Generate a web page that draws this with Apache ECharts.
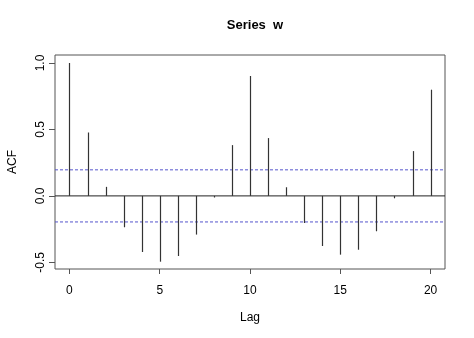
<!DOCTYPE html>
<html>
<head>
<meta charset="utf-8">
<script src="https://cdn.jsdelivr.net/npm/echarts@6/dist/echarts.min.js"></script>
<style>html,body{margin:0;padding:0;background:#fff;}#c{width:474px;height:338px;}</style>
</head>
<body>
<div id="c"></div>
<script>
const lags = [0,1,2,3,4,5,6,7,8,9,10,11,12,13,14,15,16,17,18,19,20];
const acfValues = [1.0,0.477,0.068,-0.236,-0.422,-0.495,-0.452,-0.291,-0.012,0.382,0.902,0.435,0.065,-0.204,-0.377,-0.442,-0.405,-0.266,-0.018,0.337,0.799];
const confLimit = 0.196;
const xTicks = [0,5,10,15,20];
const yTicks = [-0.5,0,0.5,1.0];
const xMin = -0.8, xMax = 20.8, yMin = -0.55, yMax = 1.06;

const chart = echarts.init(document.getElementById('c'), null, {renderer:'canvas'});
const fontFam = 'Liberation Sans, Arial, sans-serif';
const data = lags.map((l,i)=>[l, acfValues[i]]);
function hline(v, color, type){
  return {type:'line', data:[[xMin,v],[xMax,v]], symbol:'none', silent:true,
    lineStyle:{color:color, width:1, type:type}, z:1};
}
chart.setOption({
  animation:false,
  backgroundColor:'#fff',
  title:{text:'Series  w', left:250, top:14, textAlign:'center',
    textStyle:{fontFamily:fontFam, fontSize:13, fontWeight:'bold', color:'#000'}},
  grid:{left:55, top:55, right:29, bottom:69, show:true, borderColor:'#555', borderWidth:1,
    backgroundColor:'transparent', containLabel:false, outerBoundsMode:'none'},
  xAxis:{type:'value', min:xMin, max:xMax, position:'bottom',
    name:'Lag', nameLocation:'middle', nameGap:43,
    nameTextStyle:{fontFamily:fontFam, fontSize:12, color:'#000'},
    axisLine:{show:false, onZero:false}, splitLine:{show:false},
    axisTick:{show:true, customValues:xTicks, length:5, inside:false, lineStyle:{color:'#555'}},
    axisLabel:{customValues:xTicks, fontFamily:fontFam, fontSize:12, color:'#000', margin:16,
      formatter:v=>String(v)}},
  yAxis:{type:'value', min:yMin, max:yMax, position:'left',
    name:'ACF', nameLocation:'middle', nameGap:36, nameRotate:90,
    nameTextStyle:{fontFamily:fontFam, fontSize:12, color:'#000'},
    axisLine:{show:false, onZero:false}, splitLine:{show:false},
    axisTick:{show:true, customValues:yTicks, length:6, inside:false, lineStyle:{color:'#555'}},
    axisLabel:{customValues:yTicks, rotate:90, fontFamily:fontFam, fontSize:12, color:'#000', margin:14,
      verticalAlign:'middle', align:'center', formatter:v=>v.toFixed(1)}},
  series:[
    hline(0, '#222', 'solid'),
    hline(confLimit, '#5555cc', [3,2]),
    hline(-confLimit, '#5555cc', [3,2]),
    {
    type:'custom',
    data:data,
    z:2,
    renderItem:function(params, api){
      const x = api.value(0), y = api.value(1);
      const p0 = api.coord([x,0]), p1 = api.coord([x,y]);
      const px = Math.round(p0[0])+0.5;
      return {type:'line', shape:{x1:px, y1:p0[1], x2:px, y2:p1[1]},
        style:{stroke:'#333', lineWidth:1.2}};
    }
  }]
});
</script>
</body>
</html>
